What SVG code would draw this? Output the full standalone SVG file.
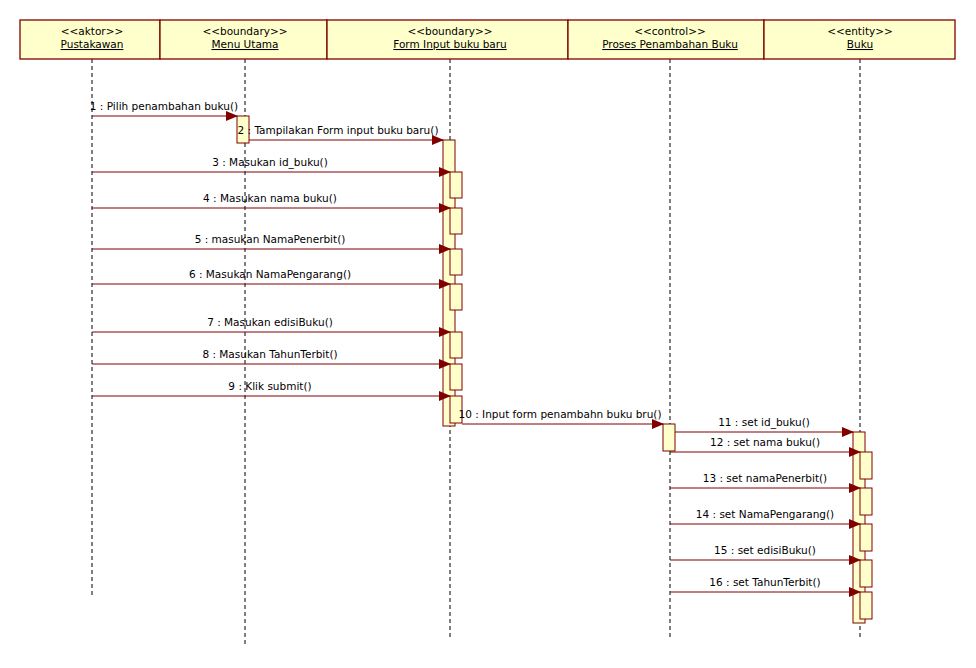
<svg xmlns="http://www.w3.org/2000/svg" width="976" height="668" viewBox="0 0 976 668">
<style>
.hd{fill:#ffffcc;stroke:#800000;stroke-width:1.3}
.t{font-family:Tahoma,"DejaVu Sans",sans-serif;font-size:10.5px;fill:#000;text-anchor:middle}
.u{text-decoration:underline}
.ll{stroke:#000;stroke-dasharray:4,3;stroke-width:1}
.act{fill:#ffffcc;stroke:#800000;stroke-width:1}
.m{stroke:#800000;stroke-width:1;marker-end:url(#a);fill:none}
</style>
<defs><marker id="a" markerWidth="12" markerHeight="10" refX="11" refY="5" orient="auto" markerUnits="userSpaceOnUse"><path d="M0,0 L12,5 L0,10 z" fill="#800000"/></marker></defs>
<rect width="976" height="668" fill="#fff"/>
<g id="lifelines">
<line class="ll" x1="92" y1="59" x2="92" y2="596"/>
<line class="ll" x1="245" y1="59" x2="245" y2="645"/>
<line class="ll" x1="450" y1="59" x2="450" y2="640"/>
<line class="ll" x1="670" y1="59" x2="670" y2="640"/>
<line class="ll" x1="860" y1="59" x2="860" y2="640"/>
</g>
<g id="n1"><rect class="hd" x="20" y="20" width="140" height="39"/><text class="t" x="92" y="35">&lt;&lt;aktor&gt;&gt;</text><text class="t u" x="92" y="48">Pustakawan</text></g>
<g id="n2"><rect class="hd" x="160" y="20" width="167" height="39"/><text class="t" x="245" y="35">&lt;&lt;boundary&gt;&gt;</text><text class="t u" x="245" y="48">Menu Utama</text></g>
<g id="n3"><rect class="hd" x="327" y="20" width="241" height="39"/><text class="t" x="450" y="35">&lt;&lt;boundary&gt;&gt;</text><text class="t u" x="450" y="48">Form Input buku baru</text></g>
<g id="n4"><rect class="hd" x="568" y="20" width="196" height="39"/><text class="t" x="670" y="35">&lt;&lt;control&gt;&gt;</text><text class="t u" x="670" y="48">Proses Penambahan Buku</text></g>
<g id="n5"><rect class="hd" x="764" y="20" width="191" height="39"/><text class="t" x="860" y="35">&lt;&lt;entity&gt;&gt;</text><text class="t u" x="860" y="48">Buku</text></g>
<g id="activations">
<rect class="act" x="237" y="116" width="12" height="27"/>
<rect class="act" x="443" y="140" width="12" height="286"/>
<rect class="act" x="450" y="172" width="12" height="26"/>
<rect class="act" x="450" y="208" width="12" height="26"/>
<rect class="act" x="450" y="249" width="12" height="26"/>
<rect class="act" x="450" y="284" width="12" height="26"/>
<rect class="act" x="450" y="332" width="12" height="26"/>
<rect class="act" x="450" y="364" width="12" height="26"/>
<rect class="act" x="450" y="396" width="12" height="27"/>
<rect class="act" x="663" y="424" width="12" height="27"/>
<rect class="act" x="853" y="432" width="12" height="191"/>
<rect class="act" x="860" y="452" width="12" height="27"/>
<rect class="act" x="860" y="488" width="12" height="27"/>
<rect class="act" x="860" y="524" width="12" height="27"/>
<rect class="act" x="860" y="560" width="12" height="27"/>
<rect class="act" x="860" y="592" width="12" height="27"/>
</g>
<g id="connectors">
<line class="m" x1="92" y1="116" x2="237" y2="116"/><text class="t" x="164" y="110">1 : Pilih penambahan buku()</text>
<line class="m" x1="249" y1="140" x2="443" y2="140"/><text class="t" x="338" y="134">2 : Tampilakan Form input buku baru()</text>
<line class="m" x1="92" y1="172" x2="450" y2="172"/><text class="t" x="270" y="166">3 : Masukan id_buku()</text>
<line class="m" x1="92" y1="208" x2="450" y2="208"/><text class="t" x="270" y="202">4 : Masukan nama buku()</text>
<line class="m" x1="92" y1="249" x2="450" y2="249"/><text class="t" x="270" y="243">5 : masukan NamaPenerbit()</text>
<line class="m" x1="92" y1="284" x2="450" y2="284"/><text class="t" x="270" y="278">6 : Masukan NamaPengarang()</text>
<line class="m" x1="92" y1="332" x2="450" y2="332"/><text class="t" x="270" y="326">7 : Masukan edisiBuku()</text>
<line class="m" x1="92" y1="364" x2="450" y2="364"/><text class="t" x="270" y="358">8 : Masukan TahunTerbit()</text>
<line class="m" x1="92" y1="396" x2="450" y2="396"/><text class="t" x="270" y="390">9 : Klik submit()</text>
<line class="m" x1="462" y1="424" x2="663" y2="424"/><text class="t" x="560" y="418">10 : Input form penambahn buku bru()</text>
<line class="m" x1="675" y1="432" x2="853" y2="432"/><text class="t" x="764" y="426">11 : set id_buku()</text>
<line class="m" x1="670" y1="452" x2="860" y2="452"/><text class="t" x="765" y="446">12 : set nama buku()</text>
<line class="m" x1="670" y1="488" x2="860" y2="488"/><text class="t" x="765" y="482">13 : set namaPenerbit()</text>
<line class="m" x1="670" y1="524" x2="860" y2="524"/><text class="t" x="765" y="518">14 : set NamaPengarang()</text>
<line class="m" x1="670" y1="560" x2="860" y2="560"/><text class="t" x="765" y="554">15 : set edisiBuku()</text>
<line class="m" x1="670" y1="592" x2="860" y2="592"/><text class="t" x="765" y="586">16 : set TahunTerbit()</text>
</g>
</svg>
